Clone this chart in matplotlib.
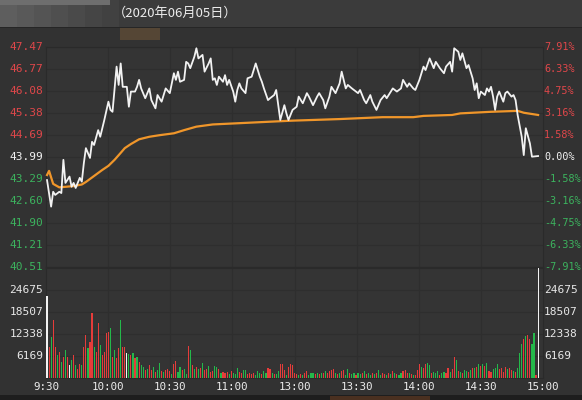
import numpy as np
import matplotlib
matplotlib.use("Agg")
import matplotlib.pyplot as plt
from matplotlib.patches import Rectangle
from matplotlib.transforms import offset_copy

# ---------------- data ----------------
title = "（2020年06月05日）"
prev_close = 43.99
price_labels = [47.47, 46.77, 46.08, 45.38, 44.69, 43.99, 43.29, 42.60, 41.90, 41.21, 40.51]
pct_labels = ["7.91%", "6.33%", "4.75%", "3.16%", "1.58%", "0.00%",
              "-1.58%", "-3.16%", "-4.75%", "-6.33%", "-7.91%"]
vol_labels = [6169, 12338, 18507, 24675]
vol_max = 30844
time_labels = ["9:30", "10:00", "10:30", "11:00", "13:00", "13:30", "14:00", "14:30", "15:00"]

price_min = [0, 2, 3, 4, 6, 7, 8, 9, 11, 12, 13, 14, 16, 17, 18, 19, 21, 22, 23, 25, 26, 28, 30, 31, 32,
             34, 35, 36, 37, 39, 40, 41, 43, 44, 45, 46, 48, 50, 51, 53, 54, 56, 58, 60, 62, 63, 64, 65,
             67, 68, 69, 70, 72, 73, 74, 76, 77, 79, 80, 81, 82, 83, 84, 86, 87, 88, 89, 91, 92, 93, 94,
             95, 97, 98, 100, 102, 104, 105, 106, 108, 109, 111, 112, 113, 114, 116, 117, 118, 120, 122,
             123, 125, 127, 128, 130, 132, 133, 135, 136, 138, 139, 141, 143, 144, 146, 147, 149,
             152, 153, 155, 156, 158, 159, 161, 163, 165, 166, 168, 169, 171, 173, 174, 176, 177, 179,
             180, 182, 184, 185, 187, 189, 190, 192, 194, 195, 197, 198, 199, 201, 202, 203, 205, 206,
             208, 209, 210, 211, 212, 214, 215, 216, 217, 218, 219, 220, 221, 223, 224, 225, 227, 228,
             229, 230, 232, 233, 234, 236, 237, 240]
price_val = [43.26, 42.42, 42.89, 42.79, 42.89, 42.85, 43.90, 43.17, 43.37, 43.05, 43.17, 43.01, 43.33,
             43.21, 43.80, 44.27, 43.96, 44.47, 44.37, 44.84, 44.63, 45.16, 45.74, 45.48, 45.42,
             46.85, 46.27, 46.95, 46.21, 46.21, 45.58, 46.06, 46.06, 46.21, 46.43, 46.16, 45.85, 46.16,
             45.79, 45.53, 45.95, 45.74, 46.16, 46.01, 46.64, 46.43, 46.69, 46.37,
             46.43, 47.00, 46.95, 46.80, 47.16, 47.43, 47.11, 47.22, 46.69, 46.95, 47.11, 46.43, 46.48,
             46.27, 46.53, 46.37, 46.58, 46.27, 46.43, 46.06, 45.74, 46.11, 46.32,
             46.16, 46.01, 46.48, 46.53, 46.95, 46.53, 46.37, 46.16, 45.79, 45.85, 45.95, 46.11, 45.63,
             45.16, 45.63, 45.37, 45.16, 45.48, 45.58,
             45.90, 45.69, 46.01, 45.90, 45.63, 45.90, 46.01, 45.79, 45.53, 45.90, 46.21, 46.01, 46.32,
             46.69, 46.16, 46.27, 46.16,
             46.01, 46.11, 45.79, 45.69, 45.95, 45.74, 45.48, 45.79, 45.95, 45.85, 46.06, 46.16, 46.06,
             46.16, 46.43, 46.21, 46.32, 46.16,
             46.11, 46.43, 46.85, 46.74, 47.11, 46.80, 47.00, 46.80, 46.64, 46.85, 47.00, 46.69, 47.43,
             47.32, 47.06, 47.27, 46.80, 46.90,
             46.48, 46.11, 46.32, 45.85, 46.06, 45.95, 46.16, 46.06, 46.21, 45.90, 45.48, 45.90, 46.06,
             45.74, 46.01, 46.06, 45.90, 45.95,
             45.79, 45.32, 44.63, 44.05, 44.90, 44.42, 44.00, 44.02]

avg_min = [0, 1, 3, 6, 13, 17, 19, 23, 27, 30, 33, 36, 38, 41, 45, 50, 55, 62, 67, 73, 81, 94, 110,
           120, 143, 164, 179, 184, 198, 202, 217, 230, 233, 240]
avg_val = [43.42, 43.55, 43.14, 43.03, 43.07, 43.12, 43.20, 43.39, 43.58, 43.71, 43.90, 44.12, 44.27,
           44.40, 44.55, 44.63, 44.68, 44.74, 44.84, 44.95, 45.02, 45.06, 45.11,
           45.14, 45.19, 45.25, 45.25, 45.29, 45.32, 45.37, 45.42, 45.45, 45.39, 45.32]

# volume per minute (w = unchanged, r = up, g = down)
vol_am1 = [22970, 8800, 11600, 16400, 8800, 6400, 7400, 4500, 6000, 7800, 6000, 3600, 5000, 6400, 3600,
           2600, 4000, 3600, 8800, 12100, 8300, 10200, 18200, 8800, 7400, 15400, 9300, 6400, 7400, 12600,
           13000, 14000, 6000, 7800, 5500, 8300, 16400, 8800, 8800, 6900, 6600, 6400, 6900, 5500, 6000,
           4500, 3600, 3100, 2200, 2600, 3600, 2200, 3100, 1700, 2200, 4300, 1900, 1700, 2200, 2600,
           1900, 1200]
col_am1 = "wrgrrgrgrg" "rwgrgrrgrr" "grrgrrgrrr" "rgrgrrgrrw" "grgrgrggrg" "rrgrggrgrr" "rg"
vol_am2 = [4000, 4700, 1700, 3100, 2200, 2600, 1200, 9000, 7800, 3600, 2600, 3100, 2500, 2800, 4300,
           2200, 2600, 3400, 1700, 1900, 3400, 3100, 2500, 1500, 1700, 1500, 1700, 1200, 1900, 1500,
           1200, 2800, 1700, 1500, 2200, 2200, 1200, 1500, 1200, 1500, 900, 1900, 1500, 1200, 1900,
           1500, 2800, 2600, 1500, 1200, 1200, 1900, 3800, 4000, 2200, 900, 3100, 3800]
col_am2 = "rrggrggrgr" "grgrgrrgrr" "ggrgrrrgrg" "ggrrg" "grrrrgggrggrrgrggrrrgrr"
vol_pm1 = [3600, 1500, 1200, 900, 1200, 900, 1500, 1900, 750, 1500, 1500, 1200, 1500, 1200, 1500,
           1500, 1900, 1500, 1900, 2200, 2500, 1500, 1200, 1500, 1900, 2200, 900, 2500, 1500, 1200,
           1500, 900, 1500, 1200, 1500, 1900, 1200, 1500, 900, 1500, 1200, 1500, 2200, 900, 1500,
           1200, 900, 1500, 1200, 1900, 1500, 1200, 900, 1500, 1900, 2200, 1500, 1500, 1200, 900]
col_pm1 = "rrrgrgrrgg" "grgrgrgrrr" "rgrgrrggrg" "grggrgrggr" "grggrrgrgr" "grggrrrgrg"
vol_pm2 = [850, 2300, 3900, 3200, 2900, 3900, 4200, 3700, 1300, 1800, 1300, 2000, 850, 1300, 1600,
           1300, 2700, 1800, 2600, 6000, 5100, 2000, 1800, 1300, 2300, 2000, 1800, 2300, 2700, 2900,
           3200, 3900, 3500, 3900, 3400, 4200, 2000, 1600, 2600, 2700, 3900, 2600, 2900, 1800, 3200,
           2600, 2700, 2300, 2000, 1800, 2700, 7000, 9500, 10800, 11700, 12000, 10800, 9500, 12700,
           850, 30844]
col_pm2 = "rrrgrrggrg" "ggrggrrgrr" "grgrggrgrg" "rgrgrgrrgg" "grrrrgrrgr" "gggrgrrggr" "w"

# ---------------- style ----------------
W, H = 582, 400
BG = "#323232"
PANEL = "#343434"
GRID = "#2e2e2e"
RED = "#e0474a"
GREEN = "#3cb35e"
BAR_RED = "#e63c3a"
BAR_GREEN = "#24b84a"
WHITE = "#f2f2f2"
ORANGE = "#f0962a"
MONO = "DejaVu Sans Mono"

fig = plt.figure(figsize=(W / 100, H / 100), dpi=100, facecolor=BG)


def frac(x0, y0, x1, y1):
    return [x0 / W, 1 - y1 / H, (x1 - x0) / W, (y1 - y0) / H]


# header / decorations
bgax = fig.add_axes([0, 0, 1, 1])
bgax.set_xlim(0, W)
bgax.set_ylim(H, 0)
bgax.axis("off")
bgax.add_patch(Rectangle((0, 0), W, 27, color="#3b3b3b", lw=0))
for i, c in enumerate(["#5e5e5e", "#595959", "#545454", "#4f4f4f", "#4a4a4a", "#454545", "#414141"]):
    bgax.add_patch(Rectangle((i * 17, 0), 17, 27, color=c, lw=0))
bgax.add_patch(Rectangle((0, 0), 110, 5, color="#6e6e6e", lw=0))
bgax.add_patch(Rectangle((0, 27), W, 1, color="#262626", lw=0))
bgax.add_patch(Rectangle((120, 28), 40, 12, color="#554635", lw=0))
bgax.add_patch(Rectangle((0, 395), W, 5, color="#1e1e1e", lw=0))
bgax.add_patch(Rectangle((330, 396), 100, 4, color="#4a3020", lw=0))
bgax.text(175, 13, title, color="#ececec", fontsize=9.5, ha="center", va="center",
          family=["Noto Sans CJK SC", "DejaVu Sans"])

axp = fig.add_axes(frac(46, 47, 543, 267))
axv = fig.add_axes(frac(46, 268, 543, 378), sharex=axp)
xl0, xl1 = -0.5, 242.4
for ax in (axp, axv):
    ax.set_facecolor(PANEL)
    for s in ax.spines.values():
        s.set_color("#2a2a2a")
        s.set_linewidth(0.8)
    ax.tick_params(length=0)
    ax.set_xlim(xl0, xl1)
    grid_x = xl0 + np.arange(1, 8) * (xl1 - xl0) / 8
    for gx in grid_x:
        ax.axvline(gx, color=GRID, lw=0.8, zorder=0)

# price panel
axp.set_ylim(price_labels[-1], price_labels[0])
for p in price_labels:
    axp.axhline(p, color=GRID, lw=0.8, zorder=0)
axp.plot(avg_min, avg_val, color=ORANGE, lw=1.6, zorder=3, clip_on=False)
axp.plot(price_min, price_val, color=WHITE, lw=1.3, zorder=4, clip_on=False)
axp.set_yticks([])
axp.tick_params(labelbottom=False)

tl = offset_copy(axp.get_yaxis_transform(), fig=fig, x=-3, y=0, units="dots")
tr = offset_copy(axp.get_yaxis_transform(), fig=fig, x=1, y=0, units="dots")
for p, s in zip(price_labels, pct_labels):
    c = RED if p > prev_close + 1e-6 else (GREEN if p < prev_close - 1e-6 else WHITE)
    axp.text(0, p, f"{p:.2f}", transform=tl, ha="right", va="center", color=c, fontsize=8, family=MONO)
    axp.text(1, p, s, transform=tr, ha="left", va="center", color=c, fontsize=7.3, family=MONO,
             clip_on=False)

# volume panel
vols = vol_am1 + vol_am2 + vol_pm1 + vol_pm2
cols = col_am1 + col_am2 + col_pm1 + col_pm2
cmap = {"r": BAR_RED, "g": BAR_GREEN, "w": WHITE}
bar_colors = [cmap[c] for c in cols]
axv.bar(np.arange(len(vols)), vols, width=0.55, color=bar_colors, lw=0, zorder=3, antialiased=False)
axv.set_ylim(0, vol_max)
for v in vol_labels:
    axv.axhline(v, color=GRID, lw=0.8, zorder=0)
axv.set_yticks([])
tlv = offset_copy(axv.get_yaxis_transform(), fig=fig, x=-3, y=0, units="dots")
trv = offset_copy(axv.get_yaxis_transform(), fig=fig, x=1, y=0, units="dots")
for v in vol_labels:
    axv.text(0, v, str(v), transform=tlv, ha="right", va="center", color="#e8e8e8", fontsize=8, family=MONO)
    axv.text(1, v, str(v), transform=trv, ha="left", va="center", color="#e8e8e8", fontsize=8, family=MONO)

tick_pos = xl0 + np.arange(9) * (xl1 - xl0) / 8
axv.set_xticks(tick_pos)
axv.set_xticklabels(time_labels, color="#ececec", fontsize=7.8, family=MONO)
axv.tick_params(axis="x", pad=3)

fig.savefig("out.png", dpi=100, facecolor=BG)
